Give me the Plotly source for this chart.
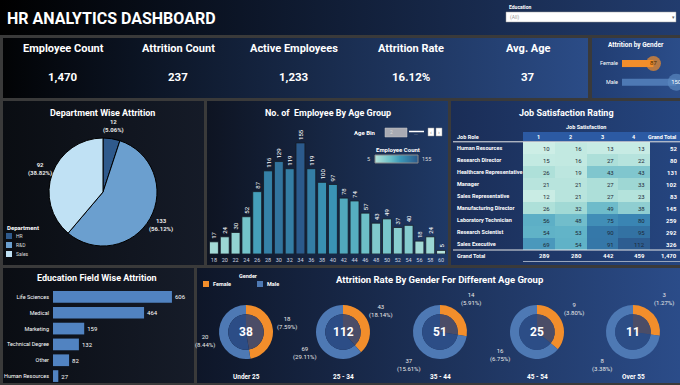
import base64
import math
import plotly.graph_objects as go

W, H = 680, 385
FONT = "Roboto"

# ---------------- data ----------------
kpi_labels = ["Employee Count", "Attrition Count", "Active Employees", "Attrition Rate", "Avg. Age"]
kpi_values = ["1,470", "237", "1,233", "16.12%", "37"]

gender_labels = ["Female", "Male"]
gender_attrition = [87, 150]

dept_labels = ["HR", "R&D", "Sales"]
dept_attrition = [12, 133, 92]

age_bins = [18, 20, 22, 24, 26, 28, 30, 32, 34, 36, 38, 40, 42, 44, 46, 48, 50, 52, 54, 56, 58, 60]
age_counts = [17, 24, 30, 52, 87, 116, 129, 119, 155, 119, 100, 97, 78, 74, 57, 43, 49, 37, 40, 18, 24, 5]

job_roles = ["Human Resources", "Research Director", "Healthcare Representative", "Manager",
             "Sales Representative", "Manufacturing Director", "Laboratory Technician",
             "Research Scientist", "Sales Executive"]
js_levels = ["1", "2", "3", "4"]
js_values = [[10, 16, 13, 13], [15, 16, 27, 22], [26, 19, 43, 43], [21, 21, 27, 33],
             [12, 21, 27, 23], [26, 32, 49, 38], [56, 48, 75, 80], [54, 53, 90, 95],
             [69, 54, 91, 112]]

edu_fields = ["Life Sciences", "Medical", "Marketing", "Technical Degree", "Other", "Human Resources"]
edu_counts = [606, 464, 159, 132, 82, 27]

age_groups = ["Under 25", "25 - 34", "35 - 44", "45 - 54", "Over 55"]
female_attr = [18, 43, 14, 9, 3]
male_attr = [20, 69, 37, 16, 8]

# ---------------- helpers ----------------
def fx(px):
    return px / W

def fy(py):
    return 1 - py / H

def ann(text, x, y, size=7, color="white", bold=True, xanchor="center", yanchor="middle", **kw):
    return dict(text=(f"<b>{text}</b>" if bold else text), x=fx(x), y=fy(y), xref="paper", yref="paper",
                showarrow=False, font=dict(size=size, color=color, family=FONT),
                xanchor=xanchor, yanchor=yanchor, **kw)

def rect(x0, y0, x1, y1, fill, line=None, lw=0):
    return dict(type="rect", xref="paper", yref="paper", x0=fx(x0), x1=fx(x1), y0=fy(y1), y1=fy(y0),
                fillcolor=fill, line=dict(color=line or fill, width=lw), layer="above")

def hline(x0, x1, y, color, width=1):
    return dict(type="line", xref="paper", yref="paper", x0=fx(x0), x1=fx(x1), y0=fy(y), y1=fy(y),
                line=dict(color=color, width=width))

# ---------------- background panels (svg gradients) ----------------
panels = [
    (0, 0, 680, 35, "#000000", "#223c6e"),
    (3, 38, 585, 60, "#020305", "#2b4c87"),
    (592, 38, 88, 60, "#213d72", "#2b4d89"),
    (3, 101, 201, 164, "#0a0d12", "#151b28"),
    (207, 101, 241, 164, "#0e1422", "#1f3966"),
    (451, 101, 229, 164, "#1a2d56", "#25457f"),
    (3, 268, 191, 115, "#0a0d13", "#161c29"),
    (197, 268, 483, 115, "#0e1628", "#2b4c89"),
]
defs = ""
rects = ""
for i, (x, y, w, h, c1, c2) in enumerate(panels):
    defs += (f'<linearGradient id="g{i}" x1="0" y1="0" x2="1" y2="0">'
             f'<stop offset="0" stop-color="{c1}"/><stop offset="1" stop-color="{c2}"/></linearGradient>')
    rects += f'<rect x="{x}" y="{y}" width="{w}" height="{h}" fill="url(#g{i})"/>'
svg = (f'<svg xmlns="http://www.w3.org/2000/svg" width="{W}" height="{H}" viewBox="0 0 {W} {H}" '
       f'preserveAspectRatio="none"><defs>{defs}</defs><rect width="{W}" height="{H}" fill="#3a3a3a"/>'
       f'{rects}</svg>')
bg_src = "data:image/svg+xml;base64," + base64.b64encode(svg.encode()).decode()

fig = go.Figure()
annotations = []
shapes = []

# ---------------- header ----------------
annotations.append(ann("HR ANALYTICS DASHBOARD", 5, 18, size=16, xanchor="left"))
annotations.append(ann("Education", 507, 7, size=5, xanchor="left"))
shapes.append(rect(506, 12, 676, 22, "#ffffff", "#999999", 0.5))
annotations.append(ann("(All)", 508, 17, size=5, color="#999999", bold=False, xanchor="left"))
annotations.append(ann("▾", 673, 17, size=5, color="#666666", bold=False))

# ---------------- KPIs ----------------
kpi_x = [63, 178, 294, 411, 528]
for lab, val, x in zip(kpi_labels, kpi_values, kpi_x):
    annotations.append(ann(lab, x, 48, size=11))
    annotations.append(ann(val, x, 77, size=11.5))

# ---------------- Attrition by gender ----------------
annotations.append(ann("Attrition by Gender", 636, 45, size=6.5))
g_colors = ["#f28e2b", "#4e79b4"]
fig.add_trace(go.Bar(x=gender_attrition, y=gender_labels, orientation="h", width=0.38,
                     marker=dict(color=g_colors, line=dict(width=0)), xaxis="x4", yaxis="y4",
                     hoverinfo="x+y"))
fig.add_trace(go.Scatter(x=gender_attrition, y=gender_labels, mode="markers+text",
                         text=[str(v) for v in gender_attrition], textposition="middle center",
                         textfont=dict(size=6, color=["#4a2a00", "#ffffff"], family=FONT),
                         marker=dict(size=[15, 17], color=["#f28e2b", "#5a87bf"], line=dict(width=0)),
                         xaxis="x4", yaxis="y4", cliponaxis=False, hoverinfo="skip"))

# ---------------- Department pie ----------------
annotations.append(ann("Department Wise Attrition", 103, 113, size=9))
dept_colors = ["#2f5a8c", "#6b9fcf", "#c0e1f4"]
cx, cy, r = 103, 192, 54
fig.add_trace(go.Pie(labels=dept_labels, values=dept_attrition, sort=False, direction="clockwise",
                     rotation=0, textinfo="none", showlegend=False,
                     marker=dict(colors=dept_colors, line=dict(color="#000000", width=1)),
                     domain=dict(x=[fx(cx - r), fx(cx + r)], y=[fy(cy + r), fy(cy - r)])))
tot = sum(dept_attrition)
acc = 0
for lab, v in zip(dept_labels, dept_attrition):
    mid = (acc + v / 2) / tot * 2 * math.pi
    acc += v
    R = 67
    annotations.append(ann(f"{v}<br>({v / tot * 100:.2f}%)", cx + R * math.sin(mid), cy - R * math.cos(mid),
                           size=6, color="#e8e8e8"))
annotations.append(ann("Department", 5, 227, size=6, xanchor="left"))
for i, (lab, c) in enumerate(zip(dept_labels, dept_colors)):
    yy = 236 + i * 9
    shapes.append(rect(6, yy - 3, 12, yy + 3, c))
    annotations.append(ann(lab, 14, yy, size=5, color="#dddddd", bold=False, xanchor="left"))

# ---------------- Age group bars ----------------
annotations.append(ann("No. of  Employee By Age Group", 328, 113, size=9))
age_scale = [[0, "#b5e2da"], [0.35, "#6cc0c8"], [0.6, "#3a96b6"], [1, "#2b5a8c"]]
fig.add_trace(go.Bar(x=age_bins, y=age_counts, width=1.65, xaxis="x", yaxis="y",
                     marker=dict(color=age_counts, colorscale=age_scale, cmin=min(age_counts),
                                 cmax=max(age_counts), line=dict(color="#151a24", width=0.8),
                                 showscale=False),
                     text=[str(v) for v in age_counts], textposition="outside", textangle=-90,
                     constraintext="none",
                     textfont=dict(size=6, color="#ffffff", family=FONT), cliponaxis=False,
                     showlegend=False))
# colour legend for employee count (gradient strip)
legend_vals = list(range(min(age_counts), max(age_counts) + 1))
fig.add_trace(go.Heatmap(z=[legend_vals], x=legend_vals, colorscale=age_scale, zmin=min(age_counts),
                         zmax=max(age_counts), showscale=False, xaxis="x5", yaxis="y5", hoverinfo="skip"))
shapes.append(dict(type="rect", xref="paper", yref="paper", x0=fx(375), x1=fx(418), y0=fy(163), y1=fy(155),
                   line=dict(color="#8a8a8a", width=1), fillcolor="rgba(0,0,0,0)", layer="above"))
annotations.append(ann("Age Bin", 365, 132, size=6))
shapes.append(rect(385, 128, 407, 137, "#a9abb3", "#c8c8c8", 0.5))
annotations.append(ann("2", 388, 132.5, size=5, color="#d8d8d8", bold=False, xanchor="left"))
shapes.append(hline(409, 424, 131.5, "#ffffff", 1.5))
annotations.append(ann("·····", 416, 135, size=3, color="#cccccc", bold=False))
shapes.append(rect(428, 128, 434, 136, "#ffffff", "#999999", 0.5))
shapes.append(rect(436, 128, 442, 136, "#ffffff", "#999999", 0.5))
annotations.append(ann("‹", 431, 131.5, size=6, color="#777777", bold=False))
annotations.append(ann("›", 439, 131.5, size=6, color="#777777", bold=False))
annotations.append(ann("Employee Count", 398, 149, size=6))
annotations.append(ann(str(min(age_counts)), 372, 159, size=5.5, color="#dddddd", bold=False, xanchor="right"))
annotations.append(ann(str(max(age_counts)), 420, 159, size=5.5, color="#dddddd", bold=False, xanchor="left"))

# ---------------- Job satisfaction table ----------------
annotations.append(ann("Job Satisfaction Rating", 566, 113, size=9))
annotations.append(ann("Job Satisfaction", 586, 127, size=5.5))
shapes.append(rect(523, 132, 680, 141, "#2c5aa3"))
annotations.append(ann("Job Role", 455, 137, size=5.5, xanchor="left"))
for j, lvl in enumerate(js_levels):
    annotations.append(dict(text=f"<b>{lvl}</b>", x=j, y=fy(137), xref="x2", yref="paper", showarrow=False,
                            font=dict(size=5.5, color="white", family=FONT)))
annotations.append(ann("Grand Total", 679, 137, size=5.5, xanchor="right"))
js_scale = [[0, "#cdeee6"], [0.2, "#a6dcd6"], [0.42, "#62b4c8"], [0.7, "#3883b2"], [1, "#2d5d91"]]
flat = [v for row in js_values for v in row]
fig.add_trace(go.Heatmap(z=js_values, x=list(range(len(js_levels))), y=list(range(len(job_roles))),
                         colorscale=js_scale, zmin=min(flat), zmax=max(flat), showscale=False,
                         xaxis="x2", yaxis="y2", xgap=0, ygap=0, hoverinfo="z"))
for i, role in enumerate(job_roles):
    annotations.append(dict(text=f"<b>{role}</b>", x=fx(455), y=i, xref="paper", yref="y2", showarrow=False,
                            xanchor="left", font=dict(size=5.5, color="white", family=FONT)))
    for j, v in enumerate(js_values[i]):
        annotations.append(dict(text=str(v), x=j + 0.42, y=i, xref="x2", yref="y2", showarrow=False,
                                xanchor="right", font=dict(size=6, color="#1e2a38", family=FONT)))
    annotations.append(dict(text=f"<b>{sum(js_values[i])}</b>", x=fx(679), y=i, xref="paper", yref="y2",
                            showarrow=False, xanchor="right", font=dict(size=6, color="white", family=FONT)))
shapes.append(hline(453, 680, 141.8, "#e8e8e8", 1))
shapes.append(hline(453, 680, 250, "#e8e8e8", 1))
shapes.append(hline(523, 680, 261.5, "#9aa6bb", 1))
annotations.append(ann("Grand Total", 455, 255.5, size=5.5, xanchor="left"))
for j in range(len(js_levels)):
    col_tot = sum(row[j] for row in js_values)
    annotations.append(dict(text=f"<b>{col_tot}</b>", x=j + 0.42, y=fy(255.5), xref="x2", yref="paper",
                            showarrow=False, xanchor="right", font=dict(size=6, color="white", family=FONT)))
annotations.append(ann(f"{sum(flat):,}", 679, 255.5, size=6, xanchor="right"))

# ---------------- Education field bars ----------------
annotations.append(ann("Education Field Wise Attrition", 97, 278, size=9))
fig.add_trace(go.Bar(x=edu_counts, y=edu_fields, orientation="h", width=0.74, xaxis="x3", yaxis="y3",
                     marker=dict(color="#5183c1", line=dict(width=0)),
                     text=[str(v) for v in edu_counts], textposition="outside", constraintext="none",
                     textfont=dict(size=6, color="#ffffff", family=FONT), cliponaxis=False,
                     showlegend=False))

# ---------------- Attrition rate by gender donuts ----------------
annotations.append(ann("Attrition Rate By Gender For Different Age Group", 440, 279, size=9.5))
annotations.append(ann("Gender", 248, 276, size=5.5))
shapes.append(rect(203, 281, 209, 287, "#f28e2b"))
annotations.append(ann("Female", 211, 284, size=5.5, xanchor="left"))
shapes.append(rect(257, 281, 263, 287, "#4e79b4"))
annotations.append(ann("Male", 265, 284, size=5.5, xanchor="left"))
grand = sum(female_attr) + sum(male_attr)
centers = [246, 343, 440, 537, 633]
dcy, ro, ri = 332, 27, 17.8
for grp, f, m, dcx in zip(age_groups, female_attr, male_attr, centers):
    t = f + m
    fig.add_trace(go.Pie(values=[f, m], labels=["Female", "Male"], sort=False, direction="clockwise",
                         rotation=0, hole=ri / ro, textinfo="none", showlegend=False,
                         marker=dict(colors=["#f28e2b", "#4e79b4"], line=dict(width=0)),
                         domain=dict(x=[fx(dcx - ro), fx(dcx + ro)], y=[fy(dcy + ro), fy(dcy - ro)])))
    fig.add_trace(go.Pie(values=[f, m], labels=["Female", "Male"], sort=False, direction="clockwise",
                         rotation=0, textinfo="none", showlegend=False, hoverinfo="skip",
                         marker=dict(colors=["#4b4d67", "#2c4d86"], line=dict(width=0)),
                         domain=dict(x=[fx(dcx - ri), fx(dcx + ri)], y=[fy(dcy + ri), fy(dcy - ri)])))
    annotations.append(ann(str(t), dcx, dcy, size=12))
    ang_f = math.pi * f / t
    ang_m = 2 * math.pi * f / t + math.pi * m / t
    R = 41
    annotations.append(ann(f"{f}<br>({f / grand * 100:.2f}%)", dcx + R * math.sin(ang_f),
                           dcy - R * math.cos(ang_f) - 6, size=6, color="#e8e8e8", bold=False))
    annotations.append(ann(f"{m}<br>({m / grand * 100:.2f}%)", dcx + R * math.sin(ang_m),
                           dcy - R * math.cos(ang_m) + 6, size=6, color="#e8e8e8", bold=False))
    annotations.append(ann(grp, dcx, 377, size=6.5))

# ---------------- layout ----------------
axis_off = dict(visible=False, showgrid=False, zeroline=False, fixedrange=True)
fig.update_layout(
    width=W, height=H, margin=dict(l=0, r=0, t=0, b=0, autoexpand=False),
    paper_bgcolor="#3a3a3a", plot_bgcolor="rgba(0,0,0,0)",
    font=dict(family=FONT, color="white"),
    showlegend=False, bargap=0.15,
    images=[dict(source=bg_src, xref="paper", yref="paper", x=0, y=1, sizex=1, sizey=1,
                 xanchor="left", yanchor="top", sizing="stretch", layer="below")],
    xaxis=dict(domain=[fx(208), fx(447)], range=[16.9, 61.1], tickvals=age_bins,
               ticktext=[str(a) for a in age_bins], tickfont=dict(size=5.5, color="#cfd6e0"),
               showgrid=False, zeroline=False, showline=False, ticks="", anchor="y", ticklabelstandoff=1),
    yaxis=dict(domain=[fy(254), fy(130)], range=[0, 173], anchor="x", **axis_off),
    xaxis2=dict(domain=[fx(523), fx(650)], range=[-0.5, 3.5], anchor="y2", **axis_off),
    yaxis2=dict(domain=[fy(250), fy(142)], range=[8.5, -0.5], anchor="x2", **axis_off),
    xaxis3=dict(domain=[fx(53), fx(190)], range=[0, 698], anchor="y3", **axis_off),
    yaxis3=dict(domain=[fy(384), fy(289)], autorange="reversed", anchor="x3", showgrid=False,
                zeroline=False, showline=False, ticks="", tickfont=dict(size=5.5, color="#ffffff"),
                ticklabelstandoff=3),
    xaxis4=dict(domain=[fx(622), fx(678)], range=[0, 155], anchor="y4", **axis_off),
    yaxis4=dict(domain=[fy(95), fy(52)], autorange="reversed", anchor="x4", showgrid=False,
                zeroline=False, showline=False, ticks="", tickfont=dict(size=5.5, color="#ffffff"),
                ticklabelstandoff=3),
    xaxis5=dict(domain=[fx(375), fx(418)], anchor="y5", **axis_off),
    yaxis5=dict(domain=[fy(163), fy(155)], anchor="x5", **axis_off),
    annotations=annotations, shapes=shapes,
)

fig.write_html("out.html", config={"displayModeBar": False},
               post_script="document.body.style.margin='0';document.body.style.overflow='hidden';")
